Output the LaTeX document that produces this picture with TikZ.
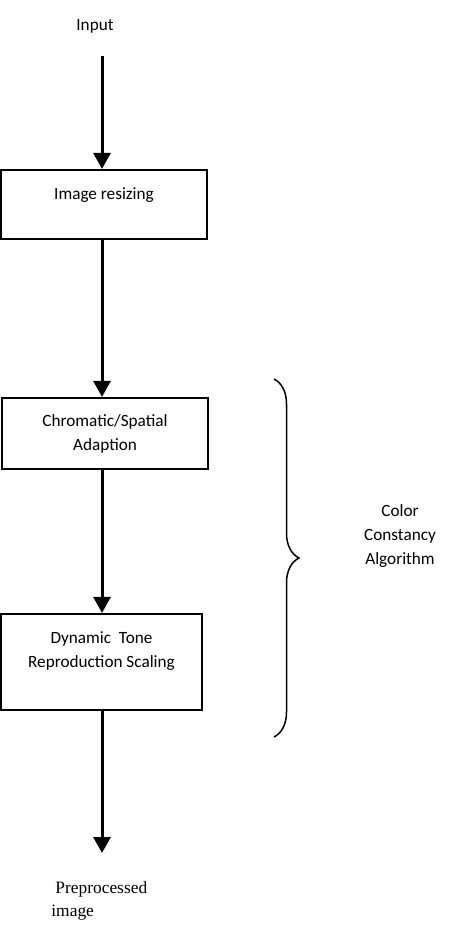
\documentclass[tikz,border=0pt]{standalone}
\usepackage{fontspec}
\setmainfont{Carlito}
\newfontfamily\serifout{Liberation Serif}
\usetikzlibrary{
  positioning,
  arrows.meta,
  decorations.pathreplacing
}
\tikzset{
  flowarrow/.style={-{Triangle[width=8.5pt,length=8pt]},line width=1.5pt},
  process/.style={rectangle,draw,line width=1.1pt,align=center,inner sep=0pt,font=\fontsize{8.6}{12}\selectfont},
  note/.style={align=center,inner sep=0pt,font=\fontsize{8.6}{12.2}\selectfont}
}

\begin{document}
\begin{tikzpicture}[x=0.5pt,y=-0.5pt]
    \useasboundingbox (0,0) rectangle (474,940);
    \node[note] (in) at (95,26) {Input};
    \node[process,minimum width=103pt,minimum height=34.5pt] (resize) at (104,204.5) {Image resizing\\[-5pt]\strut};
    \node[process,minimum width=103pt,minimum height=35.5pt] (chroma) at (105,433.5) {Chromatic/Spatial\\Adaption};
    \node[process,minimum width=100.5pt,minimum height=48pt] (tone) at (101.5,662) {Dynamic\ \ Tone\\Reproduction Scaling\\[-3pt]\strut};
    \node[anchor=west,align=left,inner sep=0pt,font=\serifout\fontsize{8.7}{11.5}\selectfont] (out) at (51,901) {\hspace{2pt}Preprocessed\\image};
    \coordinate (top) at (102,56);
    \coordinate (bottom) at (102,853);

    \draw[flowarrow] (top) -- (top |- resize.north);
    \draw[flowarrow] (top |- resize.south) -- (top |- chroma.north);
    \draw[flowarrow] (top |- chroma.south) -- (top |- tone.north);
    \draw[flowarrow] (top |- tone.south) -- (bottom);

    \draw[decorate,decoration={brace,amplitude=12.5pt},line width=0.75pt] (274,379) -- (274,737);
    \node[note] (cca) at (400,536) {Color\\Constancy\\Algorithm};
\end{tikzpicture}
\end{document}
